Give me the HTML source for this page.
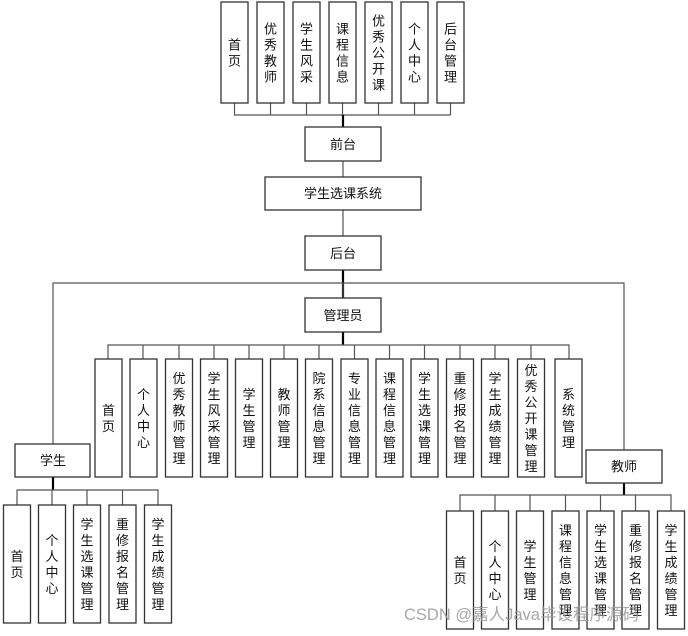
<!DOCTYPE html>
<html><head><meta charset="utf-8"><style>
html,body{margin:0;padding:0;background:#fff;}
svg{display:block;}
text{font-family:"Liberation Sans","Noto Sans CJK SC",sans-serif;font-size:13px;fill:#111;}
.b{fill:#fff;stroke:#333;stroke-width:1.3;}
.l{stroke:#555;stroke-width:1.2;fill:none;}
.k{stroke:#000;stroke-width:2.2;fill:none;}
</style></head><body>
<svg width="688" height="636" viewBox="0 0 688 636" xmlns="http://www.w3.org/2000/svg">
<!-- top row lines -->
<path class="l" d="M234.5 103V115H450.5M270.5 103V115M306.5 103V115M342.5 103V115M378.5 103V115M414.5 103V115M450.5 103V115"/>
<path class="k" d="M343 115V127"/>
<path class="l" d="M343 161V177M343 210V236"/>
<path class="k" d="M343 270V298"/>
<path class="l" d="M53 444V283H624V450M343 283V298"/>
<path class="k" d="M343 332V345"/>
<path class="l" d="M108 359V345H569V359M143 345V359M179 345V359M214 345V359M249 345V359M284 345V359M319 345V359M354.5 345V359M389.5 345V359M424.5 345V359M460 345V359M495 345V359M531 345V359"/>
<path class="k" d="M53 477V490"/>
<path class="l" d="M17 505V490H158V505M52 490V505M87 490V505M122.5 490V505"/>
<path class="k" d="M624 483V495"/>
<path class="l" d="M460 511V495H671V511M495 495V511M530 495V511M565.5 495V511M600.5 495V511M635.5 495V511"/>

<!-- top row boxes -->
<g>
<rect class="b" x="221" y="2" width="27" height="101"/><rect class="b" x="257" y="2" width="27" height="101"/><rect class="b" x="293" y="2" width="27" height="101"/><rect class="b" x="329" y="2" width="27" height="101"/><rect class="b" x="365" y="2" width="27" height="101"/><rect class="b" x="401" y="2" width="27" height="101"/><rect class="b" x="437" y="2" width="27" height="101"/>
<text text-anchor="middle"><tspan x="234.5" y="49.5">首</tspan><tspan x="234.5" dy="16">页</tspan></text>
<text text-anchor="middle"><tspan x="270.5" y="33.5">优</tspan><tspan x="270.5" dy="16">秀</tspan><tspan x="270.5" dy="16">教</tspan><tspan x="270.5" dy="16">师</tspan></text>
<text text-anchor="middle"><tspan x="306.5" y="33.5">学</tspan><tspan x="306.5" dy="16">生</tspan><tspan x="306.5" dy="16">风</tspan><tspan x="306.5" dy="16">采</tspan></text>
<text text-anchor="middle"><tspan x="342.5" y="33.5">课</tspan><tspan x="342.5" dy="16">程</tspan><tspan x="342.5" dy="16">信</tspan><tspan x="342.5" dy="16">息</tspan></text>
<text text-anchor="middle"><tspan x="378.5" y="25.5">优</tspan><tspan x="378.5" dy="16">秀</tspan><tspan x="378.5" dy="16">公</tspan><tspan x="378.5" dy="16">开</tspan><tspan x="378.5" dy="16">课</tspan></text>
<text text-anchor="middle"><tspan x="414.5" y="33.5">个</tspan><tspan x="414.5" dy="16">人</tspan><tspan x="414.5" dy="16">中</tspan><tspan x="414.5" dy="16">心</tspan></text>
<text text-anchor="middle"><tspan x="450.5" y="33.5">后</tspan><tspan x="450.5" dy="16">台</tspan><tspan x="450.5" dy="16">管</tspan><tspan x="450.5" dy="16">理</tspan></text>
</g>

<!-- middle boxes -->
<rect class="b" x="305" y="127" width="76" height="34"/><text x="343" y="149" text-anchor="middle">前台</text>
<rect class="b" x="265" y="177" width="156" height="33"/><text x="343" y="198" text-anchor="middle">学生选课系统</text>
<rect class="b" x="305" y="236" width="76" height="34"/><text x="343" y="258" text-anchor="middle">后台</text>
<rect class="b" x="305" y="298" width="76" height="34"/><text x="343" y="320" text-anchor="middle">管理员</text>
<rect class="b" x="15" y="444" width="75" height="33"/><text x="53" y="465" text-anchor="middle">学生</text>
<rect class="b" x="586" y="450" width="76" height="33"/><text x="624" y="471" text-anchor="middle">教师</text>

<!-- admin row -->
<g>
<rect class="b" x="95" y="359" width="27" height="118"/><rect class="b" x="130" y="359" width="27" height="118"/><rect class="b" x="165.5" y="359" width="27" height="118"/><rect class="b" x="200.5" y="359" width="27" height="118"/><rect class="b" x="235.5" y="359" width="27" height="118"/><rect class="b" x="270.5" y="359" width="27" height="118"/><rect class="b" x="305.5" y="359" width="27" height="118"/><rect class="b" x="341" y="359" width="27" height="118"/><rect class="b" x="376" y="359" width="27" height="118"/><rect class="b" x="411" y="359" width="27" height="118"/><rect class="b" x="446.5" y="359" width="27" height="118"/><rect class="b" x="481.5" y="359" width="27" height="118"/><rect class="b" x="517.5" y="359" width="27" height="118"/><rect class="b" x="555" y="359" width="27" height="118"/>
<text text-anchor="middle"><tspan x="108.5" y="415">首</tspan><tspan x="108.5" dy="16">页</tspan></text>
<text text-anchor="middle"><tspan x="143.5" y="399">个</tspan><tspan x="143.5" dy="16">人</tspan><tspan x="143.5" dy="16">中</tspan><tspan x="143.5" dy="16">心</tspan></text>
<text text-anchor="middle"><tspan x="179" y="383">优</tspan><tspan x="179" dy="16">秀</tspan><tspan x="179" dy="16">教</tspan><tspan x="179" dy="16">师</tspan><tspan x="179" dy="16">管</tspan><tspan x="179" dy="16">理</tspan></text>
<text text-anchor="middle"><tspan x="214" y="383">学</tspan><tspan x="214" dy="16">生</tspan><tspan x="214" dy="16">风</tspan><tspan x="214" dy="16">采</tspan><tspan x="214" dy="16">管</tspan><tspan x="214" dy="16">理</tspan></text>
<text text-anchor="middle"><tspan x="249" y="399">学</tspan><tspan x="249" dy="16">生</tspan><tspan x="249" dy="16">管</tspan><tspan x="249" dy="16">理</tspan></text>
<text text-anchor="middle"><tspan x="284" y="399">教</tspan><tspan x="284" dy="16">师</tspan><tspan x="284" dy="16">管</tspan><tspan x="284" dy="16">理</tspan></text>
<text text-anchor="middle"><tspan x="319" y="383">院</tspan><tspan x="319" dy="16">系</tspan><tspan x="319" dy="16">信</tspan><tspan x="319" dy="16">息</tspan><tspan x="319" dy="16">管</tspan><tspan x="319" dy="16">理</tspan></text>
<text text-anchor="middle"><tspan x="354.5" y="383">专</tspan><tspan x="354.5" dy="16">业</tspan><tspan x="354.5" dy="16">信</tspan><tspan x="354.5" dy="16">息</tspan><tspan x="354.5" dy="16">管</tspan><tspan x="354.5" dy="16">理</tspan></text>
<text text-anchor="middle"><tspan x="389.5" y="383">课</tspan><tspan x="389.5" dy="16">程</tspan><tspan x="389.5" dy="16">信</tspan><tspan x="389.5" dy="16">息</tspan><tspan x="389.5" dy="16">管</tspan><tspan x="389.5" dy="16">理</tspan></text>
<text text-anchor="middle"><tspan x="424.5" y="383">学</tspan><tspan x="424.5" dy="16">生</tspan><tspan x="424.5" dy="16">选</tspan><tspan x="424.5" dy="16">课</tspan><tspan x="424.5" dy="16">管</tspan><tspan x="424.5" dy="16">理</tspan></text>
<text text-anchor="middle"><tspan x="460" y="383">重</tspan><tspan x="460" dy="16">修</tspan><tspan x="460" dy="16">报</tspan><tspan x="460" dy="16">名</tspan><tspan x="460" dy="16">管</tspan><tspan x="460" dy="16">理</tspan></text>
<text text-anchor="middle"><tspan x="495" y="383">学</tspan><tspan x="495" dy="16">生</tspan><tspan x="495" dy="16">成</tspan><tspan x="495" dy="16">绩</tspan><tspan x="495" dy="16">管</tspan><tspan x="495" dy="16">理</tspan></text>
<text text-anchor="middle"><tspan x="531" y="375">优</tspan><tspan x="531" dy="16">秀</tspan><tspan x="531" dy="16">公</tspan><tspan x="531" dy="16">开</tspan><tspan x="531" dy="16">课</tspan><tspan x="531" dy="16">管</tspan><tspan x="531" dy="16">理</tspan></text>
<text text-anchor="middle"><tspan x="568.5" y="399">系</tspan><tspan x="568.5" dy="16">统</tspan><tspan x="568.5" dy="16">管</tspan><tspan x="568.5" dy="16">理</tspan></text>
</g>

<!-- student row -->
<g>
<rect class="b" x="3.5" y="505" width="27" height="118"/><rect class="b" x="38.5" y="505" width="27" height="118"/><rect class="b" x="73.5" y="505" width="27" height="118"/><rect class="b" x="109" y="505" width="27" height="118"/><rect class="b" x="144.5" y="505" width="27" height="118"/>
<text text-anchor="middle"><tspan x="17" y="561">首</tspan><tspan x="17" dy="16">页</tspan></text>
<text text-anchor="middle"><tspan x="52" y="545">个</tspan><tspan x="52" dy="16">人</tspan><tspan x="52" dy="16">中</tspan><tspan x="52" dy="16">心</tspan></text>
<text text-anchor="middle"><tspan x="87" y="529">学</tspan><tspan x="87" dy="16">生</tspan><tspan x="87" dy="16">选</tspan><tspan x="87" dy="16">课</tspan><tspan x="87" dy="16">管</tspan><tspan x="87" dy="16">理</tspan></text>
<text text-anchor="middle"><tspan x="122.5" y="529">重</tspan><tspan x="122.5" dy="16">修</tspan><tspan x="122.5" dy="16">报</tspan><tspan x="122.5" dy="16">名</tspan><tspan x="122.5" dy="16">管</tspan><tspan x="122.5" dy="16">理</tspan></text>
<text text-anchor="middle"><tspan x="158" y="529">学</tspan><tspan x="158" dy="16">生</tspan><tspan x="158" dy="16">成</tspan><tspan x="158" dy="16">绩</tspan><tspan x="158" dy="16">管</tspan><tspan x="158" dy="16">理</tspan></text>
</g>

<!-- teacher row -->
<g>
<rect class="b" x="446.5" y="511" width="27" height="118"/><rect class="b" x="481.5" y="511" width="27" height="118"/><rect class="b" x="516.5" y="511" width="27" height="118"/><rect class="b" x="552" y="511" width="27" height="118"/><rect class="b" x="587" y="511" width="27" height="118"/><rect class="b" x="622" y="511" width="27" height="118"/><rect class="b" x="657.5" y="511" width="27" height="118"/>
<text text-anchor="middle"><tspan x="460" y="567">首</tspan><tspan x="460" dy="16">页</tspan></text>
<text text-anchor="middle"><tspan x="495" y="551">个</tspan><tspan x="495" dy="16">人</tspan><tspan x="495" dy="16">中</tspan><tspan x="495" dy="16">心</tspan></text>
<text text-anchor="middle"><tspan x="530" y="551">学</tspan><tspan x="530" dy="16">生</tspan><tspan x="530" dy="16">管</tspan><tspan x="530" dy="16">理</tspan></text>
<text text-anchor="middle"><tspan x="565.5" y="535">课</tspan><tspan x="565.5" dy="16">程</tspan><tspan x="565.5" dy="16">信</tspan><tspan x="565.5" dy="16">息</tspan><tspan x="565.5" dy="16">管</tspan><tspan x="565.5" dy="16">理</tspan></text>
<text text-anchor="middle"><tspan x="600.5" y="535">学</tspan><tspan x="600.5" dy="16">生</tspan><tspan x="600.5" dy="16">选</tspan><tspan x="600.5" dy="16">课</tspan><tspan x="600.5" dy="16">管</tspan><tspan x="600.5" dy="16">理</tspan></text>
<text text-anchor="middle"><tspan x="635.5" y="535">重</tspan><tspan x="635.5" dy="16">修</tspan><tspan x="635.5" dy="16">报</tspan><tspan x="635.5" dy="16">名</tspan><tspan x="635.5" dy="16">管</tspan><tspan x="635.5" dy="16">理</tspan></text>
<text text-anchor="middle"><tspan x="671" y="535">学</tspan><tspan x="671" dy="16">生</tspan><tspan x="671" dy="16">成</tspan><tspan x="671" dy="16">绩</tspan><tspan x="671" dy="16">管</tspan><tspan x="671" dy="16">理</tspan></text>
</g>

<text x="404" y="620" style="font-size:16.5px;fill:#999;fill-opacity:0.85;">CSDN @嘉人Java毕设程序源码</text>
</svg>
</body></html>
